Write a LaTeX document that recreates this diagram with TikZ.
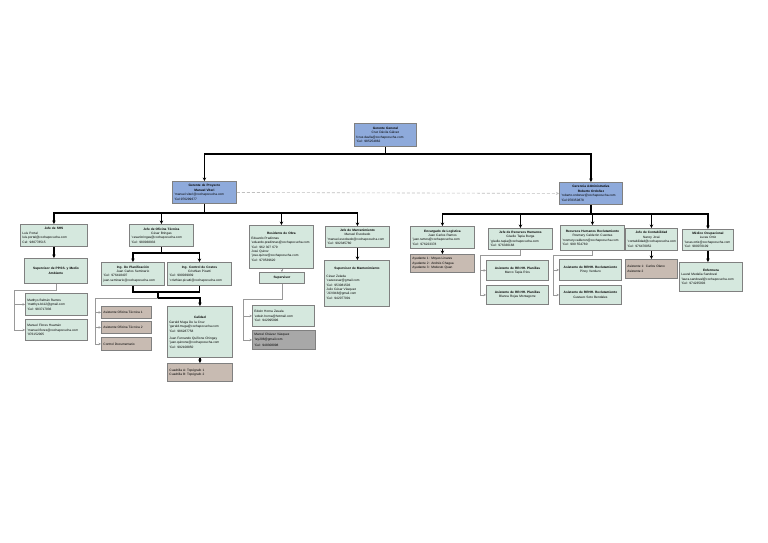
\documentclass[tikz,border=0pt]{standalone}
\usepackage{fontspec}
\setmainfont{Liberation Sans}
\usetikzlibrary{arrows.meta}
\definecolor{boxgreen}{HTML}{D5E8DE}
\definecolor{boxblue}{HTML}{8EAADB}
\definecolor{boxbrown}{HTML}{C8BBB2}
\definecolor{boxgrey}{HTML}{A8A8A8}
\definecolor{boxline}{HTML}{808080}
\newcommand\ttl[1]{\makebox[\linewidth]{\bfseries #1}}
\newcommand\ctr[1]{\makebox[\linewidth]{#1}}
\newcommand\tinyfont{\fontsize{3.2}{4.4}\selectfont}
\begin{document}
\begin{tikzpicture}[x=1pt,y=-1pt,
  box/.style={draw=boxline, line width=0.9pt, fill=boxgreen, anchor=north west,
    inner xsep=2pt, inner ysep=1pt, align=left, font=\tinyfont,
    execute at begin node={\hyphenpenalty10000 \exhyphenpenalty10000 }},
  bw/.code={\pgfmathsetmacro\tw{#1-4}\pgfkeysalso{minimum width=#1pt,text width=\tw pt}},
  bh/.style={minimum height=#1pt},
  bluebox/.style={fill=boxblue},
  brownbox/.style={fill=boxbrown},
  greybox/.style={fill=boxgrey},
  conn/.style={draw=black, line width=1.1pt, -{Stealth[length=3.5pt,width=3.5pt]}},
  conn0/.style={draw=black, line width=1.1pt},
  sub/.style={draw=gray!80, line width=0.6pt},
  subar/.style={draw=gray!80, line width=0.6pt, -{Stealth[length=2.5pt,width=2.5pt]}},
  dashc/.style={draw=gray!50, line width=0.6pt, dash pattern=on 3pt off 2pt, -{Stealth[length=3pt,width=3pt]}}
]
\fill[white] (0,0) rectangle (768,543);
\useasboundingbox (0,0) rectangle (768,543);

% level 1 and 2
\node[box,bluebox,bw=62,bh=23] (gg) at (354,123) {\ttl{Gerente General}\\ \ctr{Cruz Dávila Gálvez}\\ fcruz.davila@cochapocucha.com\\ 'Cel: 985254862};
\node[box,bluebox,bw=64,bh=22] (gp) at (172,181) {\ttl{Gerente de Proyecto}\\ \ttl{Manuel Viteri}\\ 'manuel.viteri@cochapocucha.com\\ 'Cel:976299677};
\node[box,bluebox,bw=63,bh=22] (ga) at (559,182) {\ttl{Gerencia Administrativa}\\ \ttl{Roberto Ordoñez}\\ 'roberto.ordonez@cochapocucha.com\\ 'Cel:978350878};

% SHS
\node[box,bw=67,bh=22] (shs) at (20,224) {\ttl{Jefe de SHS}\\ Luis Portal\\ luis.portal@cochapocucha.com\\ Cel: 980778515};
\node[box,bw=63,bh=25] (ppss) at (24,258) {\ttl{Supervisor de PP.SS. y Medio}\\ \ttl{Ambiente}};
\node[box,bw=62,bh=22] (mt) at (25,293) {Matthys Beltrán Ramos\\ 'matthys.b112@gmail.com\\ 'Cel: 983717036};
\node[box,bw=62,bh=21] (mf) at (25,319) {Manuel Flores Huamán\\ 'manuel.flores@cochapocucha.com\\ '976152005};

% Oficina tecnica
\node[box,bw=64,bh=22] (ot) at (129,224) {\ttl{Jefe de Oficina Técnica}\\ \ctr{César Bringas}\\ 'cesar.bringas@cochapocucha.com\\ 'Cel: 980938933};
\node[box,bw=63,bh=23] (ip) at (101,262) {\ttl{Ing. De Planificación}\\ \ctr{Juan Carlos Seminario}\\ 'Cel: 976418407\\ juan.seminario@cochapocucha.com};
\node[box,bw=64,bh=23] (ic) at (167,262) {\ttl{Ing. Control de Costos}\\ \ctr{Cristhian Picatti}\\ 'Cel: 990039939\\ 'cristhian.picatti@cochapocucha.com};
\node[box,brownbox,bw=50,bh=12] (a1) at (101,306) {Asistente Oficina Técnica 1};
\node[box,brownbox,bw=50,bh=12] (a2) at (101,321) {Asistente Oficina Técnica 2};
\node[box,brownbox,bw=50,bh=13] (cd) at (101,337) {Control Documentario};
\node[box,bw=65,bh=51] (cal) at (167,306) {\ttl{Calidad}\\[1pt] Gerald Muga De la Cruz\\ 'gerald.muga@cochapocucha.com\\ 'Cel: 986287758\\[2.5pt] Juan Fernando Quiñone Chingay\\ 'juan.quinone@cochapocucha.com\\ 'Cel: 992108850};
\node[box,brownbox,bw=65,bh=18] (cua) at (167,363) {Cuadrilla A: Topógrafo 1\\ Cuadrilla B: Topógrafo 2};

% Residente
\node[box,bw=64,bh=43] (res) at (249,225) {\ttl{Residente de Obra}\\ Eduardo Pradinnas\\ 'eduardo.pradinnas@cochapocucha.com\\ 'Cel: 962 307 679\\ José Quiroz\\ 'jose.quiroz@cochapocucha.com\\ 'Cel: 970539620};
\node[box,bw=45,bh=11] (sup) at (259,272) {\ttl{Supervisor}};
\node[box,bw=62,bh=21] (ed) at (252,305) {Edwin Horna Zavala\\ 'edwin.horna@hotmail.com\\ 'Cel: 942095996};
\node[box,greybox,bw=63,bh=19] (mc) at (252,330) {Marcel Chávez Vásquez\\ 'ley208@gmail.com\\[2pt] 'Cel: 948308098};

% Mantenimiento
\node[box,bw=64,bh=21] (mant) at (325,226) {\ttl{Jefe de Mantenimiento}\\ \ctr{Manuel Escobedo}\\ 'manuel.escobedo@cochapocucha.com\\ 'Cel: 992345780};
\node[box,bw=65,bh=46] (smant) at (324,260) {\ttl{Supervisor de Mantenimiento}\\[3pt] César Zelada\\ 'cazecesar@gmail.com\\ 'Cel: 953081503\\ Julio César Vásquez\\ 'JCV948@gmail.com\\ 'Cel: 942077091};

% Logistica
\node[box,bw=64,bh=22] (enc) at (410,226) {\ttl{Encargado de Logística}\\ \ctr{Juan Carlos Ramos}\\ 'juan.ramos@cochapocucha.com\\ 'Cel: 976223378};
\node[box,brownbox,bw=64,bh=18] (ayu) at (410,254) {Ayudante 1: Moyes Linares\\ Ayudante 2: Andrés Chagua\\ Ayudante 3: Modesto Quan};

% RRHH
\node[box,bw=64,bh=21] (rrhh) at (488,228) {\ttl{Jefe de Recursos Humanos}\\ \ctr{Giselle Tapia Burga}\\ 'giselle.tapia@cochapocucha.com\\ 'Cel: 976330168};
\node[box,bw=62,bh=20] (ar1) at (486,260) {\ttl{Asistente de RR.HH. Planillas}\\ \ctr{Marco Tapia Ríos}};
\node[box,bw=62,bh=19] (ar2) at (486,285) {\ttl{Asistente de RR.HH. Planillas}\\ \ctr{Blanca Rojas Montagorre}};

% Reclutamiento
\node[box,bw=64,bh=25] (rec) at (560,225) {\ttl{Recursos Humanos Reclutamiento}\\ \ctr{Rosmery Calderón Cuentas}\\ 'rosmery.calderon@cochapocucha.com\\ 'Cel: 990 554780};
\node[box,bw=62,bh=21] (rc1) at (559,259) {\ttl{Asistente de RRHH. Reclutamiento}\\ \ctr{Pinoy Verduzo}};
\node[box,bw=62,bh=19] (rc2) at (559,285) {\ttl{Asistente de RRHH. Reclutamiento}\\ \ctr{Gustavo Soto Bendales}};

% Contabilidad / medico
\node[box,bw=52,bh=22] (cont) at (625,228) {\ttl{Jefe de Contabilidad}\\ \ctr{Nancy José}\\ 'contabilidad@cochapocucha.com\\ 'Cel: 976470052};
\node[box,brownbox,bw=52,bh=19] (acont) at (625,259) {Asistente 1: Carlos Olano\\ Asistente 2};
\node[box,bw=51,bh=21] (med) at (682,229) {\ttl{Médico Ocupacional}\\ \ctr{Lucas Ortiz}\\ 'lucas.ortiz@cochapocucha.com\\ 'Cel: 980070109};
\node[box,bw=63,bh=29] (enf) at (679,262) {\ttl{Enfermera}\\ Laurel Medalia Sandoval\\ 'laura.sandoval@cochapocucha.com\\ 'Cel: 974235003};

% coordinates
\coordinate (bar1) at (385,154);
\coordinate (bar2) at (204,213);
\coordinate (bar3) at (590,214);
\coordinate (k1) at (14,290);
\coordinate (b3) at (161,253);
\coordinate (b4) at (158,292);
\coordinate (b5) at (158,298);
\coordinate (k2) at (95,298);
\coordinate (k3) at (243,299);
\coordinate (k4) at (480,255);
\coordinate (k5) at (553,255);

% top connectors
\draw[conn0] (gg.south) -- (gg.south|-bar1);
\draw[conn] (gg.south|-bar1) -| (gp.north);
\draw[conn] (gg.south|-bar1) -| (ga.north);
\draw[dashc] (gp.east) -- (ga.west);

\draw[conn0] (gp.south) -- (gp.south|-bar2);
\draw[conn] (gp.south|-bar2) -| (shs.north);
\draw[conn] (gp.south|-bar2) -| (ot.north);
\draw[conn] (gp.south|-bar2) -| (res.north);
\draw[conn] (gp.south|-bar2) -| (mant.north);

\draw[conn0] (ga.south) -- (ga.south|-bar3);
\draw[conn] (ga.south|-bar3) -| (enc.north);
\draw[conn] (ga.south|-bar3) -| (rrhh.north);
\draw[conn] (ga.south|-bar3) -| (rec.north);
\draw[conn] (ga.south|-bar3) -| (cont.north);
\draw[conn] (ga.south|-bar3) -| (med.north);

% SHS
\draw[conn] (shs.south) -- (shs.south|-ppss.north);
\draw[sub] (ppss.south) |- (k1);
\draw[subar] (k1) |- (mt.west);
\draw[subar] (k1) |- (mf.west);

% Oficina tecnica
\draw[conn0] (ot.south) -- (ot.south|-b3);
\draw[conn] (ot.south|-b3) -| (ip.north);
\draw[conn] (ot.south|-b3) -| (ic.north);
\draw[conn0] (ip.south) |- (b4) -| (ic.south);
\draw[conn0] (b4) -- (b5);
\draw[conn] (b5) -| (cal.north);
\draw[sub] (b5) -- (k2);
\draw[subar] (k2) |- (a1.west);
\draw[subar] (k2) |- (a2.west);
\draw[subar] (k2) |- (cd.west);
\draw[conn] (cal.south) -- (cua.north);

% Residente
\draw[subar] (res.south-|sup.north) -- (sup.north);
\draw[sub] (sup.south) |- (k3);
\draw[subar] (k3) |- (ed.west);
\draw[subar] (k3) |- (mc.west);

% Mantenimiento
\draw[conn] (mant.south) -- (mant.south|-smant.north);

% right side
\draw[conn] (enc.south) -- (ayu.north);
\draw[sub] (rrhh.south) |- (k4);
\draw[subar] (k4) |- (ar1.west);
\draw[subar] (k4) |- (ar2.west);
\draw[sub] (rec.south) |- (k5);
\draw[subar] (k5) |- (rc1.west);
\draw[subar] (k5) |- (rc2.west);
\draw[conn] (cont.south) -- (acont.north);
\draw[conn] (med.south) -- (med.south|-enf.north);
\end{tikzpicture}
\end{document}
